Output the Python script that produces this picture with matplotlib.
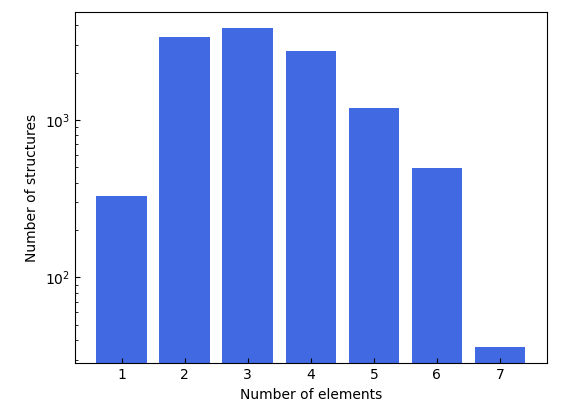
import matplotlib
matplotlib.use("Agg")
import matplotlib.pyplot as plt

n_elements = [1, 2, 3, 4, 5, 6, 7]
n_structures = [331, 3343, 3846, 2738, 1197, 494, 36]

fig = plt.figure(figsize=(5.85, 4.11), dpi=100)
ax = fig.add_axes([0.128, 0.116, 0.8065, 0.855])

ax.bar(n_elements, n_structures, width=0.8, color="royalblue")
ax.set_yscale("log")
ax.set_xticks(n_elements)
ax.tick_params(direction="in", which="both")
ax.set_xlabel("Number of elements")
ax.set_ylabel("Number of structures")

fig.savefig("out.png", dpi=100)
